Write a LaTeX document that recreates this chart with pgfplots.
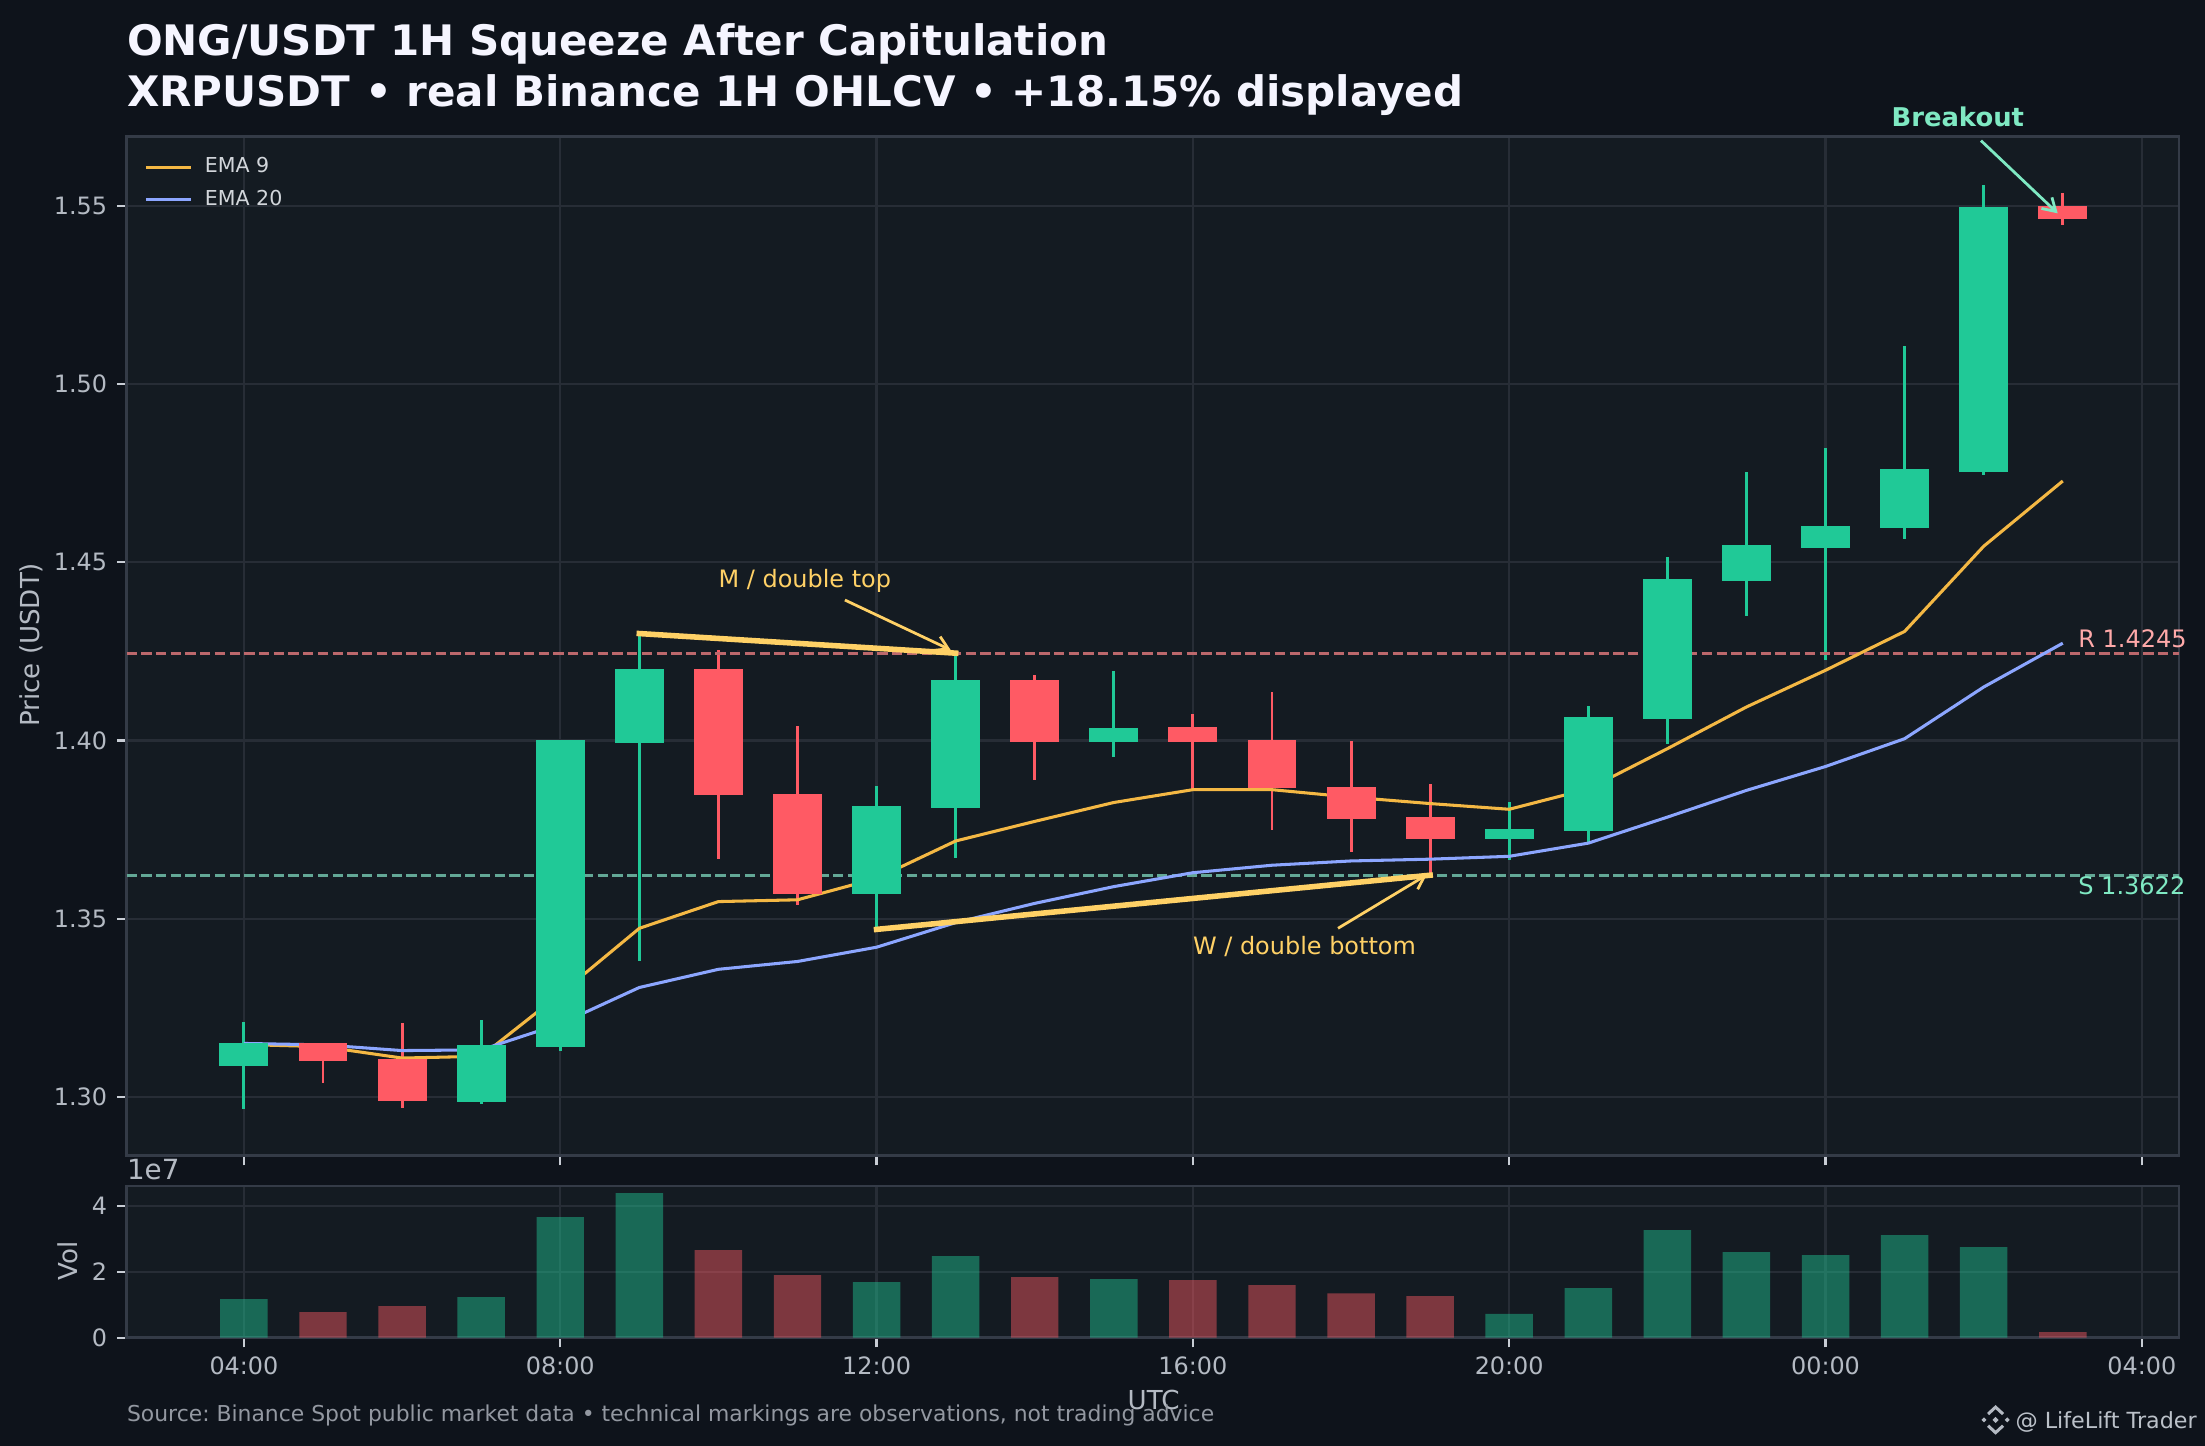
\documentclass[border=0pt]{standalone}
\usepackage{fontspec}
\setmainfont{DejaVu Sans}
\usepackage{pgfplots}
\usepackage{pgfplotstable}
\pgfplotsset{compat=1.18}
\usetikzlibrary{arrows.meta}
\frenchspacing

\definecolor{figbg}{HTML}{0E131B}
\definecolor{axbg}{HTML}{141B22}
\definecolor{gridc}{HTML}{272D36}
\definecolor{spinec}{HTML}{343B47}
\definecolor{tickc}{HTML}{C8CDD5}
\definecolor{labc}{HTML}{B4BAC3}
\definecolor{upc}{HTML}{20C997}
\definecolor{downc}{HTML}{FF5A64}
\definecolor{ema9}{HTML}{F4B844}
\definecolor{ema20}{HTML}{8CA6FF}
\definecolor{patc}{HTML}{FFD166}
\definecolor{mint}{HTML}{7FE9C3}
\definecolor{salmon}{HTML}{FFA9A9}
\definecolor{rline}{HTML}{BC686C}
\definecolor{sline}{HTML}{63A896}

% t = hours after 04:00, open high low close
\pgfplotstableread{
t o h l c
0 1.3088 1.3211 1.2966 1.3151
3 1.2986 1.3216 1.2981 1.3146
4 1.3141 1.4002 1.3128 1.4002
5 1.3992 1.4298 1.3380 1.4200
8 1.3569 1.3873 1.3475 1.3815
9 1.3811 1.4245 1.3669 1.4171
11 1.3995 1.4194 1.3953 1.4036
16 1.3724 1.3827 1.3666 1.3751
17 1.3745 1.4096 1.3712 1.4067
18 1.4060 1.4515 1.3991 1.4452
19 1.4448 1.4754 1.4348 1.4548
20 1.4540 1.4822 1.4227 1.4601
21 1.4596 1.5106 1.4566 1.4761
22 1.4753 1.5559 1.4746 1.5498
}\upT
\pgfplotstableread{
t o h l c
1 1.3151 1.3151 1.3040 1.3101
2 1.3106 1.3208 1.2968 1.2989
6 1.4201 1.4253 1.3668 1.3847
7 1.3851 1.4040 1.3538 1.3569
10 1.4171 1.4184 1.3888 1.3995
12 1.4039 1.4075 1.3862 1.3995
13 1.4002 1.4135 1.3750 1.3867
14 1.3871 1.3998 1.3688 1.3779
15 1.3785 1.3878 1.3622 1.3724
23 1.5500 1.5536 1.5445 1.5464
}\downT
\pgfplotstableread{
t e9 e20
0 1.3147 1.3150
1 1.3141 1.3146
2 1.3109 1.3130
3 1.3114 1.3132
4 1.3289 1.3205
5 1.3473 1.3307
6 1.3548 1.3358
7 1.3553 1.3380
8 1.3613 1.3420
9 1.3718 1.3489
10 1.3773 1.3543
11 1.3826 1.3590
12 1.3862 1.3629
13 1.3862 1.3650
14 1.3841 1.3662
15 1.3823 1.3667
16 1.3807 1.3675
17 1.3864 1.3712
18 1.3977 1.3785
19 1.4094 1.3860
20 1.4197 1.3927
21 1.4306 1.4005
22 1.4545 1.4150
23 1.4728 1.4273
}\emaT
% volume in units of 1e7
\pgfplotstableread{
t v
0 1.175
3 1.235
4 3.666
5 4.395
8 1.685
9 2.477
11 1.777
16 0.72
17 1.509
18 3.271
19 2.603
20 2.511
21 3.119
22 2.754
}\volUp
\pgfplotstableread{
t v
1 0.78
2 0.96
6 2.663
7 1.904
10 1.838
12 1.746
13 1.594
14 1.35
15 1.259
23 0.172
}\volDown

\pgfplotsset{
  chartbase/.style={
    scale only axis, width=738.9bp, xmin=-1.485, xmax=24.47,
    xtick={0,4,...,24}, xtick pos=bottom, ytick pos=left,
    tick align=outside, major tick length=3.5bp,
    tick style={color=tickc, line width=0.8bp},
    axis line style={draw=spinec, line width=0.9bp},
    grid=major, major grid style={draw=gridc, line width=0.8bp},
    axis background/.style={fill=axbg},
    tick label style={color=labc, font=\fontsize{8.6bp}{10bp}\selectfont},
    /pgf/number format/assume math mode=true,
    clip mode=individual,
  },
  wick/.style={draw=none, mark=none, forget plot,
    error bars/y dir=both, error bars/y explicit, error bars/error mark=none,
    error bars/error bar style={line width=1.05bp, color=#1}},
  body/.style={draw=none, mark=none, forget plot,
    error bars/y dir=both, error bars/y explicit, error bars/error mark=none,
    error bars/error bar style={line width=17.6bp, color=#1}},
}

\begin{document}
\begin{tikzpicture}
\useasboundingbox (0,0) rectangle (793.8bp,520.56bp);
\fill[figbg] (0,0) rectangle (793.8bp,520.56bp);

\node[anchor=base west, inner sep=0, text=white!96!blue, font=\fontsize{15.12bp}{18bp}\selectfont\bfseries] at (45.54bp,500.7bp) {ONG/USDT 1H Squeeze After Capitulation};
\node[anchor=base west, inner sep=0, text=white!96!blue, font=\fontsize{15.12bp}{18bp}\selectfont\bfseries] at (45.54bp,482.3bp) {XRPUSDT • real Binance 1H OHLCV • +18.15\% displayed};

\begin{axis}[chartbase,
  at={(45.54bp,104.5bp)}, anchor=south west, height=366.84bp,
  ymin=1.2835, ymax=1.5694,
  ytick={1.30,1.35,1.40,1.45,1.50,1.55},
  yticklabel style={/pgf/number format/fixed, /pgf/number format/fixed zerofill, /pgf/number format/precision=2},
  xticklabels={},
  legend style={at={(0.0044,0.9911)}, anchor=north west, draw=none, fill=none,
    text=labc!60!white, font=\fontsize{7.4bp}{9bp}\selectfont, row sep=0.8bp,
    /tikz/every even column/.style={column sep=8bp}},
  legend cell align=left,
  legend image code/.code={\draw[#1] (0bp,0bp) -- (16.2bp,0bp); \path (18.7bp,0bp);},
]
% wicks sit under the level lines, bodies over everything
\addplot[wick=upc] table[x=t, y expr={(\thisrow{h}+\thisrow{l})/2}, y error expr={(\thisrow{h}-\thisrow{l})/2}] {\upT};
\addplot[wick=downc] table[x=t, y expr={(\thisrow{h}+\thisrow{l})/2}, y error expr={(\thisrow{h}-\thisrow{l})/2}] {\downT};

\addplot[forget plot, color=rline, line width=1bp, dash pattern=on 3.7bp off 1.6bp] coordinates {(-1.485,1.4245) (24.47,1.4245)};
\addplot[forget plot, color=sline, line width=1bp, dash pattern=on 3.7bp off 1.6bp] coordinates {(-1.485,1.3622) (24.47,1.3622)};

\addplot[color=ema9, line width=1.1bp, mark=none] table[x=t, y=e9] {\emaT};
\addlegendentry{EMA 9}
\addplot[color=ema20, line width=1.1bp, mark=none] table[x=t, y=e20] {\emaT};
\addlegendentry{EMA 20}

\addplot[body=upc] table[x=t, y expr={(\thisrow{o}+\thisrow{c})/2}, y error expr={(\thisrow{c}-\thisrow{o})/2}] {\upT};
\addplot[body=downc] table[x=t, y expr={(\thisrow{o}+\thisrow{c})/2}, y error expr={(\thisrow{o}-\thisrow{c})/2}] {\downT};

% double top / double bottom
\addplot[forget plot, color=patc, line width=2bp, line cap=rect] coordinates {(5,1.4300) (9,1.4245)};
\addplot[forget plot, color=patc, line width=2bp, line cap=rect] coordinates {(8,1.3470) (15,1.3622)};

\draw[patc, line width=1bp, -{Straight Barb[length=4.5bp,width=5.5bp]}] (axis cs:7.60,1.4394) -- (axis cs:8.937,1.4254);
\draw[patc, line width=1bp, -{Straight Barb[length=4.5bp,width=5.5bp]}] (axis cs:13.835,1.3473) -- (axis cs:14.957,1.3623);
\draw[mint, line width=1bp, -{Straight Barb[length=4.5bp,width=5.5bp]}] (axis cs:21.966,1.5683) -- (axis cs:22.936,1.5479);
\end{axis}

\begin{axis}[chartbase,
  at={(45.54bp,39bp)}, anchor=south west, height=54.6bp,
  ymin=0, ymax=4.61, ytick={0,2,4},
  xticklabels={04:00,08:00,12:00,16:00,20:00,00:00,04:00},
]
\addplot[ybar, bar width=0.6, bar shift=0pt, fill=upc, fill opacity=0.45, draw=none] table[x=t, y=v] {\volUp};
\addplot[ybar, bar width=0.6, bar shift=0pt, fill=downc, fill opacity=0.45, draw=none] table[x=t, y=v] {\volDown};
\end{axis}

% text around the axes
\tikzset{lab/.style={inner sep=0, text=labc, font=\fontsize{9.4bp}{11bp}\selectfont}}
\node[lab, rotate=90, anchor=center] at (11.1bp,288.4bp) {Price (USDT)};
\node[lab, rotate=90, anchor=center] at (24.3bp,66.6bp) {Vol};
\node[lab, anchor=base west, font=\fontsize{10bp}{11bp}\selectfont] at (45.54bp,96.1bp) {1e7};
\node[lab, anchor=base] at (415.3bp,13.3bp) {UTC};
\node[anchor=base west, inner sep=0, text=labc!80!figbg, font=\fontsize{7.88bp}{9bp}\selectfont] at (45.54bp,8.9bp) {Source: Binance Spot public market data • technical markings are observations, not trading advice};

\node[anchor=base west, inner sep=0, text=patc, font=\fontsize{8.62bp}{10bp}\selectfont] at (258.5bp,309.2bp) {M / double top};
\node[anchor=base west, inner sep=0, text=patc, font=\fontsize{8.62bp}{10bp}\selectfont] at (429.3bp,176.8bp) {W / double bottom};
\node[anchor=base, inner sep=0, text=mint, font=\fontsize{9.3bp}{11bp}\selectfont\bfseries] at (704.8bp,474.9bp) {Breakout};
\node[anchor=base west, inner sep=0, text=salmon, font=\fontsize{8.65bp}{10bp}\selectfont] at (748bp,287.6bp) {R 1.4245};
\node[anchor=base west, inner sep=0, text=mint, font=\fontsize{8.65bp}{10bp}\selectfont] at (748bp,198.6bp) {S 1.3622};

% watermark
\node[anchor=base west, inner sep=0, text=labc!90!white, font=\fontsize{8bp}{10bp}\selectfont] at (725.4bp,6.4bp) {@ LifeLift Trader};
\begin{scope}[shift={(718.4bp,9.4bp)}, x=1bp, y=1bp]
\fill[labc] (0,1.1) -- (1.1,0) -- (0,-1.1) -- (-1.1,0) -- cycle;
\fill[labc] (4.2,0.9) -- (5.1,0) -- (4.2,-0.9) -- (3.3,0) -- cycle;
\fill[labc] (-4.2,0.9) -- (-3.3,0) -- (-4.2,-0.9) -- (-5.1,0) -- cycle;
\draw[labc, line width=1.1] (-2.7,2.1) -- (0,4.6) -- (2.7,2.1);
\draw[labc, line width=1.1] (-2.7,-2.1) -- (0,-4.6) -- (2.7,-2.1);
\end{scope}
\end{tikzpicture}
\end{document}
